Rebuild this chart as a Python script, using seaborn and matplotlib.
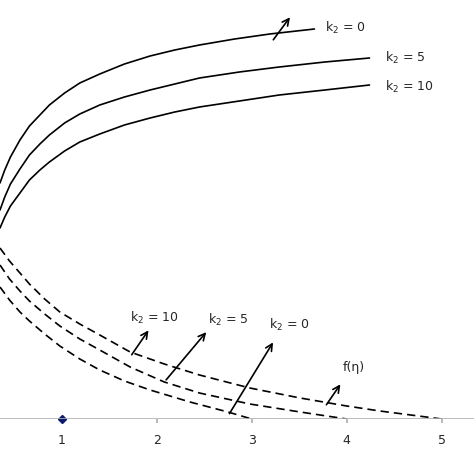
import matplotlib
matplotlib.use("Agg")
import matplotlib.pyplot as plt
import seaborn as sns
import numpy as np
import pandas as pd

# curve points (eta, value)
solid_k0_x = [0.35, 0.40, 0.46, 0.56, 0.66, 0.77, 0.87, 1.03, 1.19, 1.40, 1.66, 1.93, 2.19, 2.45, 2.82, 3.19, 3.66]
solid_k0_y = [2.36, 2.49, 2.62, 2.79, 2.93, 3.04, 3.14, 3.26, 3.36, 3.45, 3.55, 3.63, 3.69, 3.74, 3.80, 3.85, 3.90]
solid_k5_x = [0.35, 0.40, 0.46, 0.56, 0.66, 0.77, 0.87, 1.03, 1.19, 1.40, 1.66, 1.93, 2.19, 2.45, 2.87, 3.29, 3.77, 4.24]
solid_k5_y = [2.09, 2.22, 2.35, 2.50, 2.64, 2.75, 2.84, 2.96, 3.05, 3.14, 3.22, 3.29, 3.35, 3.41, 3.47, 3.52, 3.57, 3.61]
solid_k10_x = [0.35, 0.40, 0.46, 0.56, 0.66, 0.77, 0.87, 1.03, 1.19, 1.40, 1.66, 1.93, 2.19, 2.45, 2.87, 3.29, 3.77, 4.24]
solid_k10_y = [1.91, 2.02, 2.13, 2.26, 2.39, 2.49, 2.57, 2.68, 2.77, 2.85, 2.94, 3.01, 3.07, 3.12, 3.18, 3.24, 3.29, 3.34]

dash_k10_x = [0.35, 0.45, 0.56, 0.66, 0.82, 0.98, 1.19, 1.40, 1.72, 2.08, 2.45, 2.98, 3.51, 4.0, 4.35, 5.0]
dash_k10_y = [1.71, 1.58, 1.46, 1.35, 1.20, 1.07, 0.95, 0.84, 0.67, 0.55, 0.44, 0.31, 0.21, 0.13, 0.08, 0.0]
dash_k5_x = [0.35, 0.45, 0.56, 0.66, 0.82, 0.98, 1.19, 1.40, 1.72, 2.08, 2.45, 2.98, 3.51, 4.0]
dash_k5_y = [1.54, 1.40, 1.28, 1.18, 1.05, 0.93, 0.80, 0.69, 0.52, 0.37, 0.26, 0.15, 0.07, 0.0]
dash_k0_x = [0.35, 0.45, 0.56, 0.66, 0.82, 0.98, 1.19, 1.40, 1.66, 1.93, 2.35, 2.75, 3.0]
dash_k0_y = [1.32, 1.19, 1.07, 0.98, 0.85, 0.73, 0.60, 0.49, 0.38, 0.29, 0.17, 0.07, 0.0]

marker_x = [1]
marker_y = [0]
xticks = [1, 2, 3, 4, 5]

sns.set_theme(style="white")
fig, ax = plt.subplots(figsize=(4.74, 4.74), dpi=100)
fig.subplots_adjust(left=0, right=1, top=1, bottom=55 / 474)

for xs, ys, ls in [(solid_k0_x, solid_k0_y, "-"), (solid_k5_x, solid_k5_y, "-"),
                   (solid_k10_x, solid_k10_y, "-")]:
    sns.lineplot(x=xs, y=ys, ax=ax, color="black", lw=1.2, sort=False)
for xs, ys in [(dash_k10_x, dash_k10_y), (dash_k5_x, dash_k5_y), (dash_k0_x, dash_k0_y)]:
    sns.lineplot(x=xs, y=ys, ax=ax, color="black", lw=1.2, sort=False, dashes=False)
    ax.lines[-1].set_dashes((5, 3))

ax.plot(marker_x, marker_y, marker="D", color="#0a1a6e", ms=4, clip_on=False)

ax.set_xlim(0.35, 5.34)
ax.set_ylim(0, 4.19)
ax.axhline(0, color="#b0b0b0", lw=1.2)
for s in ax.spines.values():
    s.set_visible(False)
ax.set_yticks([])
ax.set_xticks(xticks)
ax.tick_params(axis="x", length=3, color="#b0b0b0", labelsize=9, pad=8, bottom=True)

arr = dict(arrowstyle="->", color="black", lw=1.2)
fs = 9
ax.annotate("", xy=(3.42, 4.04), xytext=(3.21, 3.77), arrowprops=arr)
ax.text(3.77, 3.91, "k$_2$ = 0", fontsize=fs, va="center")
ax.text(4.40, 3.61, "k$_2$ = 5", fontsize=fs, va="center")
ax.text(4.40, 3.32, "k$_2$ = 10", fontsize=fs, va="center")

ax.annotate("", xy=(1.93, 0.91), xytext=(1.72, 0.62), arrowprops=arr)
ax.text(1.98, 1.01, "k$_2$ = 10", fontsize=fs, ha="center", va="center")
ax.annotate("", xy=(2.54, 0.89), xytext=(2.08, 0.37), arrowprops=arr)
ax.text(2.75, 0.99, "k$_2$ = 5", fontsize=fs, ha="center", va="center")
ax.annotate("", xy=(3.24, 0.79), xytext=(2.75, 0.03), arrowprops=arr)
ax.text(3.40, 0.94, "k$_2$ = 0", fontsize=fs, ha="center", va="center")
ax.annotate("", xy=(3.95, 0.37), xytext=(3.77, 0.12), arrowprops=arr)
ax.text(4.07, 0.51, "f(η)", fontsize=fs, ha="center", va="center")

fig.savefig("out.png", dpi=100)
